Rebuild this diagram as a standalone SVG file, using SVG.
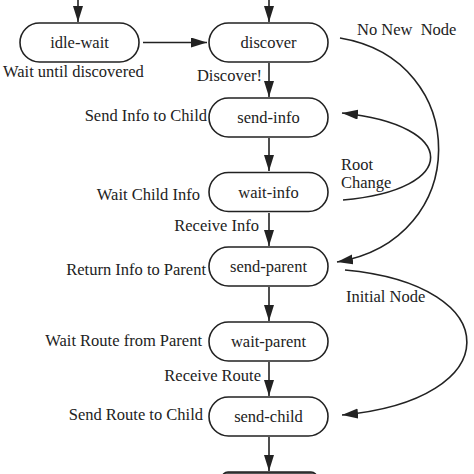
<svg xmlns="http://www.w3.org/2000/svg" width="474" height="474" viewBox="0 0 474 474">
<style>
text{font-family:"Liberation Serif","Times New Roman",serif;font-size:16.5px;fill:#222}
.n rect{fill:#fff;stroke:#222;stroke-width:1.6}
.n text{text-anchor:middle}
.e{text-anchor:end}
.c path,.c line{fill:none;stroke:#222;stroke-width:1.6;marker-end:url(#ah)}
</style>
<defs>
<marker id="ah" markerUnits="userSpaceOnUse" markerWidth="17" markerHeight="11" refX="16" refY="5" orient="auto">
<path d="M0,0 L16,5 L0,10 z" fill="#222"/>
</marker>
</defs>
<rect x="0" y="0" width="474" height="474" fill="#fff"/>
<g class="c">
<line x1="78" y1="0" x2="78" y2="22"/>
<line x1="269" y1="0" x2="269" y2="22"/>
<line x1="143" y1="42.5" x2="207" y2="42.5"/>
<line x1="269" y1="63" x2="269" y2="97"/>
<line x1="269" y1="138" x2="269" y2="171"/>
<line x1="269" y1="213" x2="269" y2="246"/>
<line x1="269" y1="287" x2="269" y2="321"/>
<line x1="269" y1="362" x2="269" y2="396"/>
<line x1="269" y1="437" x2="269" y2="471"/>
<path d="M340,38 C472,60 472,240 337,262"/>
<path d="M343,200 C460,190 460,125 342,113"/>
<path d="M345,270 C508,285 508,400 342,415"/>
</g>
<g id="idle-wait" class="n"><rect x="20" y="23" width="119" height="39" rx="19.5"/><text x="79.5" y="48">idle-wait</text></g>
<g id="discover" class="n"><rect x="209" y="23" width="119" height="39" rx="19.5"/><text x="268.5" y="48">discover</text></g>
<g id="send-info" class="n"><rect x="209" y="98" width="119" height="39" rx="19.5"/><text x="268.5" y="123">send-info</text></g>
<g id="wait-info" class="n"><rect x="209" y="172.5" width="119" height="39" rx="19.5"/><text x="268.5" y="197.5">wait-info</text></g>
<g id="send-parent" class="n"><rect x="209" y="247" width="119" height="39" rx="19.5"/><text x="268.5" y="272">send-parent</text></g>
<g id="wait-parent" class="n"><rect x="209" y="322" width="119" height="39" rx="19.5"/><text x="268.5" y="347">wait-parent</text></g>
<g id="send-child" class="n"><rect x="209" y="397" width="119" height="39" rx="19.5"/><text x="268.5" y="422">send-child</text></g>
<g id="final"><rect x="222" y="472" width="95" height="20" rx="6" fill="#555" stroke="#222" stroke-width="1.6"/></g>
<g id="labels">
<text x="3" y="77">Wait until discovered</text>
<text class="e" x="262" y="81">Discover!</text>
<text x="357" y="35">No New&#160; Node</text>
<text class="e" x="207" y="121">Send Info to Child</text>
<text class="e" x="200" y="200">Wait Child Info</text>
<text x="341" y="170">Root</text>
<text x="341" y="188">Change</text>
<text class="e" x="259" y="231">Receive Info</text>
<text class="e" x="206" y="275">Return Info to Parent</text>
<text x="346" y="302">Initial Node</text>
<text class="e" x="202" y="346">Wait Route from Parent</text>
<text class="e" x="261" y="381">Receive Route</text>
<text class="e" x="203" y="420">Send Route to Child</text>
</g>
</svg>
